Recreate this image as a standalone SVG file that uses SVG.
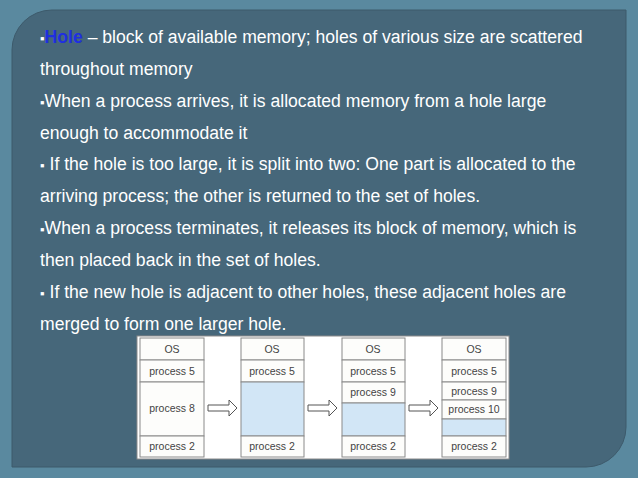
<svg xmlns="http://www.w3.org/2000/svg" width="638" height="478" viewBox="0 0 638 478">
<style>
.t{font-family:"Liberation Sans",Arial,sans-serif;font-size:17.6px;fill:#ffffff}
.s{font-size:13px}
.b{fill:#fdfdfb;stroke:#8a8a8a;stroke-width:1}
.h{fill:#d2e6f6;stroke:#8a8a8a;stroke-width:1}
.l{font-family:"Liberation Sans",Arial,sans-serif;font-size:10.5px;fill:#444;text-anchor:middle}
.a{fill:#fff;stroke:#555;stroke-width:1}
</style>
<rect width="638" height="478" fill="#5a899f"/>
<path d="M52 10 H626 V427 A40 40 0 0 1 586 467 H12 V50 A40 40 0 0 1 52 10 Z" fill="#46677a" stroke="#3d5a6b"/>
<g id="text">
<text class="t" x="40" y="43"><tspan class="s">▪</tspan><tspan font-weight="bold" style="fill:#1f2fe0">Hole</tspan> – block of available memory; holes of various size are scattered</text>
<text class="t" x="40" y="75">throughout memory</text>
<text class="t" x="40" y="107"><tspan class="s">▪</tspan>When a process arrives, it is allocated memory from a hole large</text>
<text class="t" x="40" y="139">enough to accommodate it</text>
<text class="t" x="40" y="170"><tspan class="s">▪</tspan> If the hole is too large, it is split into two: One part is allocated to the</text>
<text class="t" x="40" y="202">arriving process; the  other is returned to the set of holes.</text>
<text class="t" x="40" y="234"><tspan class="s">▪</tspan>When a process terminates, it releases its block of memory, which is</text>
<text class="t" x="40" y="266">then placed back in the set of holes.</text>
<text class="t" x="40" y="298"><tspan class="s">▪</tspan> If the new hole is adjacent to other holes, these adjacent holes are</text>
<text class="t" x="40" y="330">merged to form one larger hole.</text>
</g>
<rect x="137" y="336" width="372" height="123" fill="#fff" stroke="#8a8a8a"/>
<g id="m1">
<rect class="b" x="140" y="338" width="64" height="22"/><text class="l" x="172" y="353">OS</text>
<rect class="b" x="140" y="360" width="64" height="22"/><text class="l" x="172" y="375">process 5</text>
<rect class="b" x="140" y="382" width="64" height="54"/><text class="l" x="172" y="412">process 8</text>
<rect class="b" x="140" y="436" width="64" height="21"/><text class="l" x="172" y="450">process 2</text>
</g>
<g id="m2">
<rect class="b" x="241" y="338" width="63" height="22"/><text class="l" x="272" y="353">OS</text>
<rect class="b" x="241" y="360" width="63" height="22"/><text class="l" x="272" y="375">process 5</text>
<rect class="h" x="241" y="382" width="63" height="54"/>
<rect class="b" x="241" y="436" width="63" height="21"/><text class="l" x="272" y="450">process 2</text>
</g>
<g id="m3">
<rect class="b" x="342" y="338" width="63" height="22"/><text class="l" x="373" y="353">OS</text>
<rect class="b" x="342" y="360" width="63" height="22"/><text class="l" x="373" y="375">process 5</text>
<rect class="b" x="342" y="382" width="63" height="21"/><text class="l" x="373" y="396">process 9</text>
<rect class="h" x="342" y="403" width="63" height="33"/>
<rect class="b" x="342" y="436" width="63" height="21"/><text class="l" x="373" y="450">process 2</text>
</g>
<g id="m4">
<rect class="b" x="442" y="338" width="64" height="22"/><text class="l" x="474" y="353">OS</text>
<rect class="b" x="442" y="360" width="64" height="22"/><text class="l" x="474" y="375">process 5</text>
<rect class="b" x="442" y="382" width="64" height="18"/><text class="l" x="474" y="395">process 9</text>
<rect class="b" x="442" y="400" width="64" height="19"/><text class="l" x="474" y="413">process 10</text>
<rect class="h" x="442" y="419" width="64" height="17"/>
<rect class="b" x="442" y="436" width="64" height="21"/><text class="l" x="474" y="450">process 2</text>
</g>
<g id="connectors">
<path class="a" d="M208 405 H229 V400 L237 408 L229 416 V411 H208 Z"/>
<path class="a" d="M308 405 H329 V400 L337 408 L329 416 V411 H308 Z"/>
<path class="a" d="M409 405 H430 V400 L438 408 L430 416 V411 H409 Z"/>
</g>
</svg>
